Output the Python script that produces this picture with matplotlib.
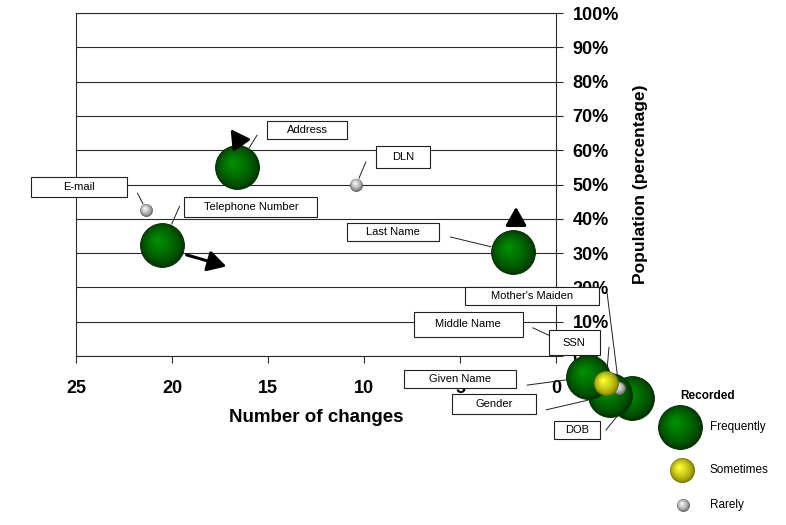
"""Bubble chart: how often personal identifiers change vs. share of population."""

import matplotlib
matplotlib.use("Agg")
import matplotlib.pyplot as plt
import numpy as np
from matplotlib import transforms
from matplotlib.colors import to_rgb
from matplotlib.patches import FancyArrowPatch, Rectangle

plt.rcParams["font.family"] = ["Liberation Sans", "DejaVu Sans"]

# --- Data -------------------------------------------------------------------

NAMES = ["Address", "DLN", "E-mail", "Telephone Number", "Last Name",
         "DOB", "Gender", "Given Name", "Mother's Maiden", "SSN"]
CHANGES = [16.6, 10.4, 21.35, 20.5, 2.24, -3.96, -2.81, -1.67, -3.28, -2.6]
POPULATION = [55, 50, 42.6, 32.4, 30.3, -12.2, -11.4, -6.1, -9.3, -7.9]
RECORDED = ["Frequently", "Rarely", "Rarely", "Frequently", "Frequently",
            "Frequently", "Frequently", "Frequently", "Rarely", "Sometimes"]

CATEGORIES = ["Frequently", "Sometimes", "Rarely"]
X_TICKS = [25, 20, 15, 10, 5, 0]
Y_TICKS = list(range(0, 101, 10))

# --- Layout / style -----------------------------------------------------------

STYLE = {
    "Frequently": dict(size=1000, edge="#003800", centre="#009000"),
    "Sometimes": dict(size=300, edge="#8c8c00", centre="#ffff30"),
    "Rarely": dict(size=75, edge="#808080", centre="#f8f8f8"),
}

# label box: centre x, centre y, width, height (data units)
BOXES = {
    "Address": (12.97, 65.9, 4.17, 5.25),
    "DLN": (7.97, 58.0, 2.86, 6.4),
    "E-mail": (24.84, 49.3, 5.0, 5.8),
    "Telephone Number": (15.89, 43.4, 6.93, 5.8),
    "Last Name": (8.49, 36.2, 4.84, 5.25),
    "Mother's Maiden": (1.25, 17.5, 7.03, 5.25),
    "Middle Name": (4.58, 9.3, 5.68, 7.3),
    "SSN": (-0.94, 3.8, 2.66, 7.3),
    "Given Name": (5.0, -6.7, 5.83, 5.5),
    "Gender": (3.23, -14.0, 4.38, 5.8),
    "DOB": (-1.09, -21.6, 2.4, 5.25),
}

# where each leader line starts (it runs to the bubble)
LEADERS = {
    "Address": (15.57, 64.4),
    "DLN": (9.9, 56.6),
    "E-mail": (21.8, 47.5),
    "Telephone Number": (19.6, 43.7),
    "Last Name": (5.5, 34.7),
    "Mother's Maiden": (-2.66, 18.4),
    "SSN": (-2.76, 2.6),
    "Given Name": (1.51, -8.5),
    "Gender": (0.52, -15.7),
    "DOB": (-2.6, -21.6),
}
MIDDLE_LEADER = [(1.2, 8.2), (0.2, 5.6)]  # tucked under the SSN box

# trend arrows: tail, tip
ARROWS = [
    ((16.3, 60.9), (17.03, 66.8)),
    ((19.375, 29.7), (17.03, 25.9)),
    ((2.08, 37.3), (2.08, 44.3)),
]

GRID = "#2a2a2a"


def shaded_bubble(ax, x, y, style, z, trans):
    """Bubble with a soft radial highlight (concentric layers)."""
    n = 14
    c0 = np.array(to_rgb(style["edge"]))
    c1 = np.array(to_rgb(style["centre"]))
    r = np.sqrt(style["size"]) / 2
    ax.scatter([x], [y], s=style["size"], color=c0, edgecolors=c0 * 0.8,
               linewidths=0.6, transform=trans, zorder=z, clip_on=False)
    for i in range(1, n):
        f = 1 - i / n
        t = (i / (n - 1)) ** 0.7
        off = transforms.offset_copy(trans, fig=ax.figure, x=-(1 - f) * r * 0.25,
                                     y=(1 - f) * r * 0.25, units="points")
        ax.scatter([x], [y], s=style["size"] * f ** 2, color=c0 + (c1 - c0) * t,
                   edgecolors="none", transform=off, zorder=z + i * 0.001,
                   clip_on=False)


fig = plt.figure(figsize=(7.86, 5.25), dpi=100)
ax = fig.add_axes([76 / 786, 1 - 356 / 525, 480 / 786, 343 / 525])
ax.set_xlim(25, 0)
ax.set_ylim(0, 100)

ax.set_xticks(X_TICKS)
ax.set_xticklabels([str(v) for v in X_TICKS])
ax.set_yticks(Y_TICKS)
ax.set_yticklabels([f"{v}%" for v in Y_TICKS])
ax.yaxis.tick_right()
ax.yaxis.set_label_position("right")
ax.tick_params(axis="both", direction="out", length=5, width=0.8, color=GRID,
               labelsize=13)
ax.tick_params(axis="x", pad=12)
ax.tick_params(axis="y", pad=7)
for lab in ax.get_xticklabels() + ax.get_yticklabels():
    lab.set_fontweight("bold")
ax.grid(axis="y", color=GRID, linewidth=0.8)
ax.set_axisbelow(True)
for sp in ax.spines.values():
    sp.set_color(GRID)
    sp.set_linewidth(0.8)

ax.set_xlabel("Number of changes", fontsize=13.5, fontweight="bold")
ax.xaxis.set_label_coords(0.5, -0.155)
ax.set_ylabel("Population (percentage)", fontsize=12.5, fontweight="bold")
ax.yaxis.set_label_coords(1.16, 0.5)

# --- bubbles ------------------------------------------------------------------
for k, (x, y, rec) in enumerate(zip(CHANGES, POPULATION, RECORDED)):
    shaded_bubble(ax, x, y, STYLE[rec], 3 + k * 0.05, ax.transData)

# --- leader lines + label boxes ----------------------------------------------
for name, x, y, rec in zip(NAMES, CHANGES, POPULATION, RECORDED):
    r = np.sqrt(STYLE[rec]["size"]) / 2
    ax.annotate("", xy=(x, y), xytext=LEADERS[name],
                arrowprops=dict(arrowstyle="-", color="#202020", lw=0.7,
                                shrinkA=0, shrinkB=r + 0.5),
                annotation_clip=False, zorder=2.8)
ax.plot(*zip(*MIDDLE_LEADER), color="#202020", lw=0.7, clip_on=False, zorder=2.8)

for name, (cx, cy, w, h) in BOXES.items():
    ax.add_patch(Rectangle((cx - w / 2, cy - h / 2), w, h, facecolor="white",
                           edgecolor="#202020", linewidth=0.8, zorder=6,
                           clip_on=False))
    ax.text(cx, cy, name, ha="center", va="center", fontsize=8, zorder=7,
            clip_on=False)

# --- trend arrows -------------------------------------------------------------
for tail, tip in ARROWS:
    ax.add_patch(FancyArrowPatch(tail, tip,
                                 arrowstyle="-|>,head_length=0.8,head_width=0.45",
                                 mutation_scale=14, color="black", lw=2.2,
                                 clip_on=False, zorder=8))

# --- legend (pixel space) -----------------------------------------------------
lax = fig.add_axes([0, 0, 1, 1], zorder=5)
lax.set_xlim(0, 786)
lax.set_ylim(525, 0)
lax.axis("off")
lax.patch.set_visible(False)
lax.text(708, 396, "Recorded", ha="center", va="center", fontsize=8.5,
         fontweight="bold")
for cat, (mx, my) in zip(CATEGORIES, [(680, 427), (682, 470), (683, 505)]):
    shaded_bubble(lax, mx, my, STYLE[cat], 3, lax.transData)
    lax.text(710, my, cat, ha="left", va="center", fontsize=8.5)

fig.savefig("out.png", dpi=100)
